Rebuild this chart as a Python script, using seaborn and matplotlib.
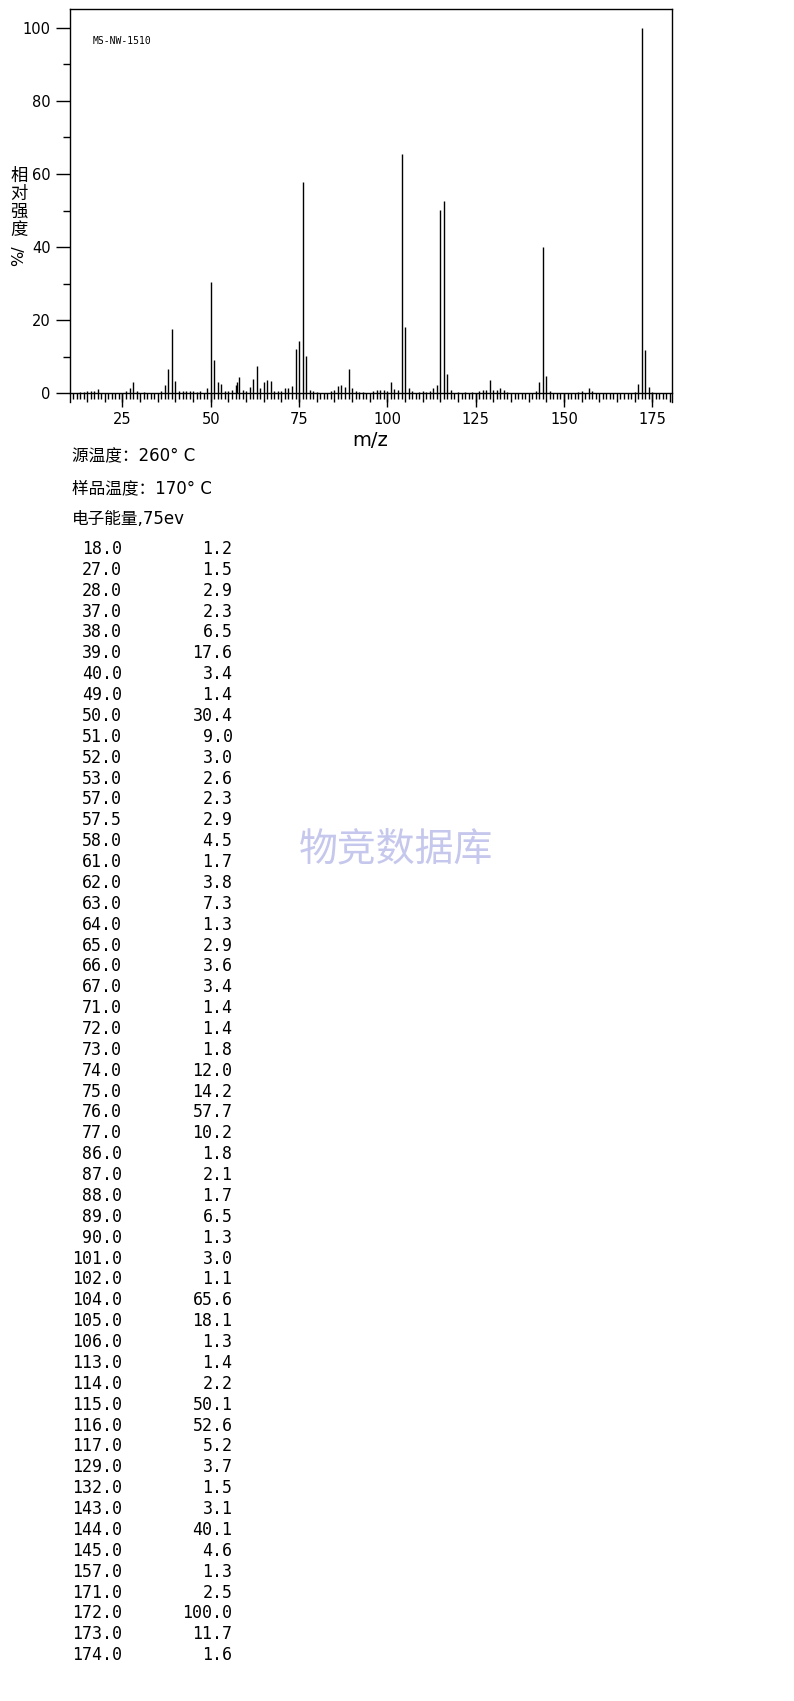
import matplotlib
matplotlib.use("Agg")
import matplotlib.pyplot as plt
from matplotlib.ticker import MultipleLocator, FixedLocator, NullFormatter, FuncFormatter
import seaborn as sns
import numpy as np

# ---------------- data ----------------
mz = [18.0, 27.0, 28.0, 37.0, 38.0, 39.0, 40.0, 49.0, 50.0, 51.0, 52.0, 53.0,
      57.0, 57.5, 58.0, 61.0, 62.0, 63.0, 64.0, 65.0, 66.0, 67.0, 71.0, 72.0,
      73.0, 74.0, 75.0, 76.0, 77.0, 86.0, 87.0, 88.0, 89.0, 90.0, 101.0, 102.0,
      104.0, 105.0, 106.0, 113.0, 114.0, 115.0, 116.0, 117.0, 129.0, 132.0,
      143.0, 144.0, 145.0, 157.0, 171.0, 172.0, 173.0, 174.0]
intensity = [1.2, 1.5, 2.9, 2.3, 6.5, 17.6, 3.4, 1.4, 30.4, 9.0, 3.0, 2.6,
             2.3, 2.9, 4.5, 1.7, 3.8, 7.3, 1.3, 2.9, 3.6, 3.4, 1.4, 1.4,
             1.8, 12.0, 14.2, 57.7, 10.2, 1.8, 2.1, 1.7, 6.5, 1.3, 3.0, 1.1,
             65.6, 18.1, 1.3, 1.4, 2.2, 50.1, 52.6, 5.2, 3.7, 1.5,
             3.1, 40.1, 4.6, 1.3, 2.5, 100.0, 11.7, 1.6]

# small peaks visible on the chart but below 1 % (estimated)
minor_mz = [13, 14, 15, 16, 17, 26, 29, 31, 36, 41, 42, 43, 44, 45, 46, 47,
            54, 55, 56, 59, 60, 68, 69, 70, 78, 79, 80, 84, 85, 91, 92, 93,
            96, 97, 98, 99, 100, 103, 107, 109, 110, 111, 112, 118, 120, 122,
            124, 126, 127, 128, 130, 131, 133, 134, 142, 146, 154, 155, 158,
            170, 175]
minor_int = [0.4, 0.4, 0.5, 0.5, 0.5, 0.6, 0.6, 0.3, 0.5, 0.6, 0.5, 0.5, 0.6,
             0.5, 0.4, 0.5, 0.6, 0.5, 0.7, 0.8, 0.6, 0.6, 0.5, 0.5, 0.7, 0.5,
             0.4, 0.5, 0.9, 0.5, 0.4, 0.4, 0.5, 0.7, 0.9, 0.8, 0.5, 0.8, 0.6,
             0.4, 0.5, 0.4, 0.6, 0.7, 0.4, 0.4, 0.4, 0.5, 0.8, 0.9, 0.7, 0.8,
             0.8, 0.4, 0.6, 0.5, 0.4, 0.5, 0.5, 0.4, 0.3]

x_major = [25, 50, 75, 100, 125, 150, 175]
y_major = [0, 20, 40, 60, 80, 100]

header_lines = ["源温度：260° C", "样品温度：170° C", "电子能量,75ev"]
sample_id = "MS-NW-1510"
ylabel_chars = ["相", "对", "强", "度"]
ylabel_unit = "%/"
xlabel = "m/z"
watermark = "物竞数据库"

# ---------------- style ----------------
sns.set_style("white")
plt.rcParams['font.family'] = ['DejaVu Sans', 'Noto Sans CJK SC']
plt.rcParams['xtick.bottom'] = True
plt.rcParams['ytick.left'] = True
CJK = ['Noto Sans CJK SC', 'DejaVu Sans']
LAT = ['DejaVu Sans', 'Noto Sans CJK SC']

W, H = 794, 1701
fig = plt.figure(figsize=(W / 100, H / 100), dpi=100)
fig.patch.set_facecolor('white')

def fx(px):
    return px / W

def fy(py):
    return 1 - py / H

ax_left, ax_right, ax_top, ax_bot = 70, 671.7, 9.3, 401.7
ax = fig.add_axes([fx(ax_left), fy(ax_bot), (ax_right - ax_left) / W, (ax_bot - ax_top) / H])
ax.set_facecolor('white')

# spectrum sticks
ax.vlines(minor_mz, 0, minor_int, color='black', linewidth=1.0)
ax.vlines(mz, 0, intensity, color='black', linewidth=1.0)

ax.set_xlim(10.14, 180.5)
ax.set_ylim(-2.38, 105.12)

for s in ['left', 'right', 'top', 'bottom']:
    ax.spines[s].set_visible(True)
    ax.spines[s].set_color('black')
    ax.spines[s].set_linewidth(1.0)
ax.spines['bottom'].set_position(('data', 0))

# x ticks
ax.xaxis.set_major_locator(MultipleLocator(5))
ax.xaxis.set_minor_locator(MultipleLocator(1))
ax.xaxis.set_major_formatter(FuncFormatter(lambda v, p: f"{int(round(v))}" if int(round(v)) in x_major else ""))
ax.tick_params(axis='x', which='both', bottom=True, top=False)
ax.tick_params(axis='x', which='major', direction='out', length=6.5, width=1, color='black',
               labelsize=10.5, pad=7.5, labelcolor='black')
ax.tick_params(axis='x', which='minor', direction='out', length=4.5, width=1, color='black')

frac0 = (0 - (-2.38)) / (105.12 + 2.38)
sec = ax.secondary_xaxis(frac0)
sec.xaxis.set_major_locator(FixedLocator(x_major))
sec.xaxis.set_major_formatter(NullFormatter())
sec.xaxis.set_minor_locator(FixedLocator([]))
sec.tick_params(axis='x', which='major', bottom=True, top=False, direction='out',
                length=10, width=1, color='black')
sec.spines['bottom'].set_visible(False)
sec.spines['top'].set_visible(False)

# y ticks
ax.yaxis.set_major_locator(FixedLocator(y_major))
ax.yaxis.set_minor_locator(MultipleLocator(10))
ax.tick_params(axis='y', which='both', right=False, left=True)
ax.tick_params(axis='y', which='major', direction='out', length=10, width=1, color='black',
               labelsize=10.5, pad=4, labelcolor='black')
ax.tick_params(axis='y', which='minor', direction='out', length=5, width=1, color='black')
ax.grid(False)

# sample id
fig.text(fx(93), fy(40.5), sample_id, family='DejaVu Sans Mono', fontsize=7,
         ha='left', va='center', color='black')

# y label (stacked characters)
for i, ch in enumerate(ylabel_chars):
    fig.text(fx(19), fy(176 + i * 18), ch, family=CJK, fontsize=12.5,
             ha='center', va='center', color='black')
fig.text(fx(19), fy(256), ylabel_unit, family=LAT, fontsize=11.5, rotation=90,
         ha='center', va='center', color='black')

# x label
fig.text(fx(370), fy(440), xlabel, fontsize=14, ha='center', va='center', color='black')

# header lines
for i, line in enumerate(header_lines):
    fig.text(fx(71.6), fy([456, 488.5, 519.5][i]), line, family=LAT, fontsize=12,
             ha='left', va='center', color='black')

# peak table
row0, dy = 548.0, 20.87
for i, (m, v) in enumerate(zip(mz, intensity)):
    yb = row0 + i * dy + 6
    fig.text(fx(122), fy(yb), f"{m:.1f}", family='DejaVu Sans Mono', fontsize=12,
             ha='right', va='baseline', color='black')
    fig.text(fx(232.5), fy(yb), f"{v:.1f}", family='DejaVu Sans Mono', fontsize=12,
             ha='right', va='baseline', color='black')

# watermark
fig.text(fx(396.5), fy(850), watermark, family=CJK, fontsize=28, color='#c5c7ec',
         ha='center', va='center')

fig.savefig("out.png", dpi=100, facecolor='white')
